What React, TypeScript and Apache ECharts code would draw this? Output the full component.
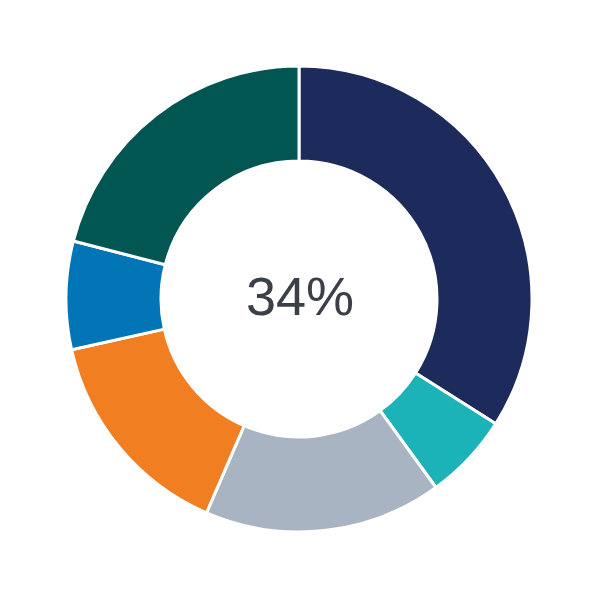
import React, { useEffect, useRef } from "react";
import * as echarts from "echarts";

const categories = ["A", "B", "C", "D", "E", "F"];
const values = [34, 6, 16.5, 15, 7.5, 21];
const colors = ["#1c2b5b", "#1bb3b7", "#a9b4c3", "#f17e21", "#0175b5", "#025651"];
const centerLabel = "34%";

export default function App() {
  const ref = useRef<HTMLDivElement>(null);
  useEffect(() => {
    if (!ref.current) return;
    const chart = echarts.init(ref.current, null, { renderer: "svg" });
    chart.setOption({
      animation: false,
      backgroundColor: "#ffffff",
      graphic: [
        {
          type: "text",
          x: 300,
          y: 296,
          style: {
            text: centerLabel,
            align: "center",
            verticalAlign: "middle",
            fontSize: 54,
            fontFamily: "Liberation Sans, Arial, sans-serif",
            fill: "#3a3f48",
          },
        },
      ],
      series: [
        {
          type: "pie",
          center: [299, 299],
          radius: [138, 233],
          startAngle: 90,
          clockwise: true,
          label: { show: false },
          labelLine: { show: false },
          emphasis: { disabled: true },
          itemStyle: { borderColor: "#ffffff", borderWidth: 3 },
          data: categories.map((c, i) => ({
            name: c,
            value: values[i],
            itemStyle: { color: colors[i] },
          })),
        },
      ],
    });
    return () => chart.dispose();
  }, []);
  return (
    <div
      ref={ref}
      style={{ position: "absolute", left: 0, top: 0, width: 600, height: 600 }}
    />
  );
}
